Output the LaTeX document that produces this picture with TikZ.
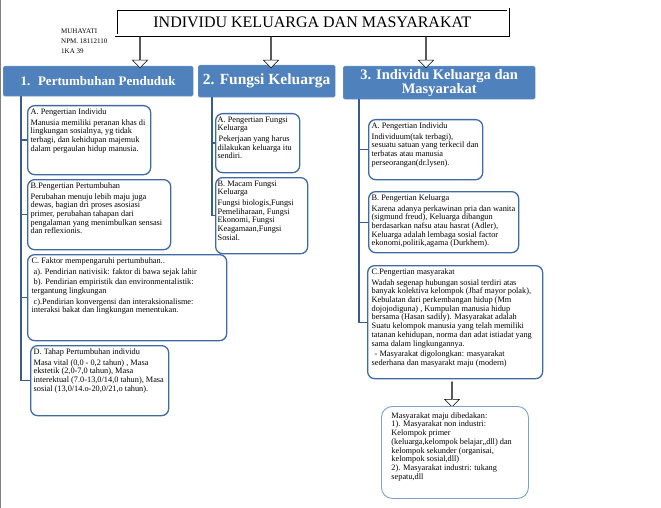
\documentclass[tikz,border=0pt]{standalone}
\usepackage{fontspec}
\setmainfont{Liberation Serif}
\usetikzlibrary{shapes.arrows}
\definecolor{hdr}{HTML}{4F81BD}
\definecolor{bord}{HTML}{3F6AA6}
\definecolor{spine}{HTML}{3B5B8C}
\tikzset{
  hd/.style={fill=hdr,draw=hdr!80!white,rounded corners=1.5,text=white,font=\fontsize{13}{14}\selectfont\bfseries,align=center,inner sep=0},
  bx/.style={draw=bord,line width=1.3pt,rounded corners=7,anchor=north west,inner sep=0,font=\fontsize{8.3}{8.7}\selectfont},
  sp/.style={draw=spine,line width=1.3pt},
  barr/.style={single arrow,draw=black,fill=white,line width=0.5pt,shape border rotate=270,minimum width=15,single arrow head extend=3.5,inner sep=0,single arrow head indent=0},
}
\newcommand{\bxtext}[3]{\parbox[t][#2][t]{#1}{\raggedright\vspace{3pt}#3}}
\begin{document}
\begin{tikzpicture}[x=1pt,y=-1pt]
\fill[white] (0,0) rectangle (661,508);
\useasboundingbox (0,0) rectangle (661,508);
\fill[gray] (0,0) rectangle (1.3,508);
% title
\node[draw,line width=0.6pt,double,double distance=2pt,minimum width=392,minimum height=26,anchor=north west,inner sep=0,font=\fontsize{16}{17}\selectfont] (title) at (116,9) {INDIVIDU KELUARGA DAN MASYARAKAT};
\node[anchor=north west,align=left,font=\fontsize{7}{10}\selectfont,inner sep=0] (nm) at (61,29) {MUHAYATI\\NPM. 18112110\\1KA 39};
% headers
\node[hd,minimum width=190,minimum height=30,anchor=north west] (h1) at (3,66) {1.~ Pertumbuhan Penduduk};
\node[hd,minimum width=137,minimum height=32,anchor=north west,font=\fontsize{15.5}{16}\selectfont\bfseries] (h2) at (198,65) {2. Fungsi Keluarga};
\node[hd,minimum width=192,minimum height=33,anchor=north west,font=\fontsize{14.5}{14}\selectfont\bfseries] (h3) at (343,66) {3. Individu Keluarga dan\\Masyarakat};
% arrows
\node[barr,minimum height=31] (a1) at (140,52) {};
\node[barr,minimum height=31] (a2) at (271,52) {};
\node[barr,minimum height=31] (a3) at (426,52) {};
% column 1
\node[bx] (c1a) at (27,105) {\bxtext{123pt}{69pt}{\hspace*{3pt}A. Pengertian Individu\\[2pt]\hspace*{3pt}Manusia memiliki  peranan khas di\\\hspace*{3pt}lingkungan sosialnya, yg tidak\\\hspace*{3pt}terbagi, dan kehidupan majemuk\\\hspace*{3pt}dalam pergaulan hidup manusia.}};
\node[bx] (c1b) at (27,179) {\bxtext{143pt}{70pt}{\hspace*{3pt}B.Pengertian Pertumbuhan\\[2pt]\hspace*{3pt}Perubahan menuju lebih maju juga\\\hspace*{3pt}dewas, bagian dri proses asosiasi\\\hspace*{3pt}primer, perubahan tahapan dari\\\hspace*{3pt}pengalaman yang menimbulkan  sensasi\\\hspace*{3pt}dan reflexionis.}};
\node[bx] (c1c) at (27,254) {\bxtext{199pt}{86pt}{\hspace*{4pt}C. Faktor  mempengaruhi pertumbuhan..\\[2pt]\hspace*{6pt}a). Pendirian nativisik:  faktor  di bawa sejak lahir\\[2pt]\hspace*{6pt}b). Pendirian empiristik  dan environmentalistik:\\\hspace*{4pt}tergantung lingkungan\\[2pt]\hspace*{6pt}c).Pendirian konvergensi dan interaksionalisme:\\\hspace*{4pt}interaksi bakat dan lingkungan  menentukan.}};
\node[bx] (c1d) at (30,345) {\bxtext{138pt}{70pt}{\hspace*{3pt}D. Tahap Pertumbuhan  individu\\[2pt]\hspace*{3pt}Masa vital (0,0 - 0,2  tahun) , Masa\\\hspace*{3pt}ekstetik (2,0-7,0 tahun), Masa\\\hspace*{3pt}interektual (7.0-13,0/14,0  tahun), Masa\\\hspace*{3pt}sosial (13,0/14.o-20,0/21,o  tahun).}};
\coordinate (s1) at ([xshift=18]h1.south west);
\draw[sp] (s1) |- (c1a.west);
\draw[sp] (s1) |- (c1b.west);
\draw[sp] (s1) |- (c1c.west);
\draw[sp] (s1) |- (c1d.west);
% column 2
\node[bx] (c2a) at (215,113) {\bxtext{84pt}{59pt}{\hspace*{2pt}A. Pengertian Fungsi\\\hspace*{2pt}Keluarga\\[2pt]\hspace*{3pt}Pekerjaan yang harus\\\hspace*{2pt}dilakukan keluarga itu\\\hspace*{2pt}sendiri.}};
\node[bx] (c2b) at (215,177) {\bxtext{92pt}{76pt}{\hspace*{2pt}B. Macam Fungsi\\\hspace*{2pt}Keluarga\\[2pt]\hspace*{2pt}Fungsi biologis,Fungsi\\\hspace*{2pt}Pemeliharaan, Fungsi\\\hspace*{2pt}Ekonomi, Fungsi\\\hspace*{2pt}Keagamaan,Fungsi\\\hspace*{2pt}Sosial.}};
\coordinate (s2) at ([xshift=14]h2.south west);
\draw[sp] (s2) |- (c2a.west);
\draw[sp] (s2) |- (c2b.west);
% column 3
\node[bx] (c3a) at (368,119) {\bxtext{114pt}{60pt}{\hspace*{3pt}A. Pengertian Individu\\[2pt]\hspace*{3pt}Individuum(tak terbagi),\\\hspace*{3pt}sesuatu satuan yang terkecil dan\\\hspace*{3pt}terbatas atau manusia\\\hspace*{3pt}perseorangan(dr.lysen).}};
\node[bx] (c3b) at (368,191) {\bxtext{150pt}{61pt}{\hspace*{3pt}B. Pengertian Keluarga\\[2pt]\hspace*{3pt}Karena adanya perkawinan pria dan wanita\\\hspace*{3pt}(sigmund  freud), Keluarga dibangun\\\hspace*{3pt}berdasarkan nafsu atau hasrat (Adler),\\\hspace*{3pt}Keluarga adalah lembaga sosial factor\\\hspace*{3pt}ekonomi,politik,agama  (Durkhem).}};
\node[bx] (c3c) at (367,265) {\bxtext{175pt}{113pt}{\hspace*{4pt}C.Pengertian masyarakat\\[2pt]\hspace*{4pt}Wadah segenap hubungan sosial terdiri atas\\\hspace*{4pt}banyak kolektiva kelompok  (Jhaf  mayor  polak),\\\hspace*{4pt}Kebulatan dari perkembangan hidup  (Mm\\\hspace*{4pt}dojojodiguna) , Kumpulan manusia  hidup\\\hspace*{4pt}bersama (Hasan sadily). Masyarakat adalah\\\hspace*{4pt}Suatu kelompok manusia  yang telah memiliki\\\hspace*{4pt}tatanan kehidupan, norma dan adat istiadat  yang\\\hspace*{4pt}sama dalam lingkungannya.\\[2pt]\hspace*{5pt} - Masyarakat digolongkan:  masyarakat\\\hspace*{4pt}sederhana dan masyarakt maju  (modern)}};
\coordinate (s3) at ([xshift=16]h3.south west);
\draw[sp] (s3) |- (c3a.west);
\draw[sp] (s3) |- (c3b.west);
\draw[sp] (s3) |- (c3c.west);
% bottom
\node[barr,minimum height=25] (a4) at (452,394) {};
\node[draw=hdr!75!white,line width=0.9pt,rounded corners=11,anchor=north west,inner sep=0,font=\fontsize{8.3}{8.7}\selectfont] (last) at (381,406) {\bxtext{147pt}{92pt}{\vspace*{3pt}\hspace*{10pt}Masyarakat maju dibedakan:\\\hspace*{10pt}1). Masyarakat non industri:\\\hspace*{10pt}Kelompok primer\\\hspace*{10pt}(keluarga,kelompok belajar,,dll) dan\\\hspace*{10pt}kelompok sekunder  (organisai,\\\hspace*{10pt}kelompok sosial,dll)\\\hspace*{10pt}2). Masyarakat industri: tukang\\\hspace*{10pt}sepatu,dll}};
\end{tikzpicture}
\end{document}
